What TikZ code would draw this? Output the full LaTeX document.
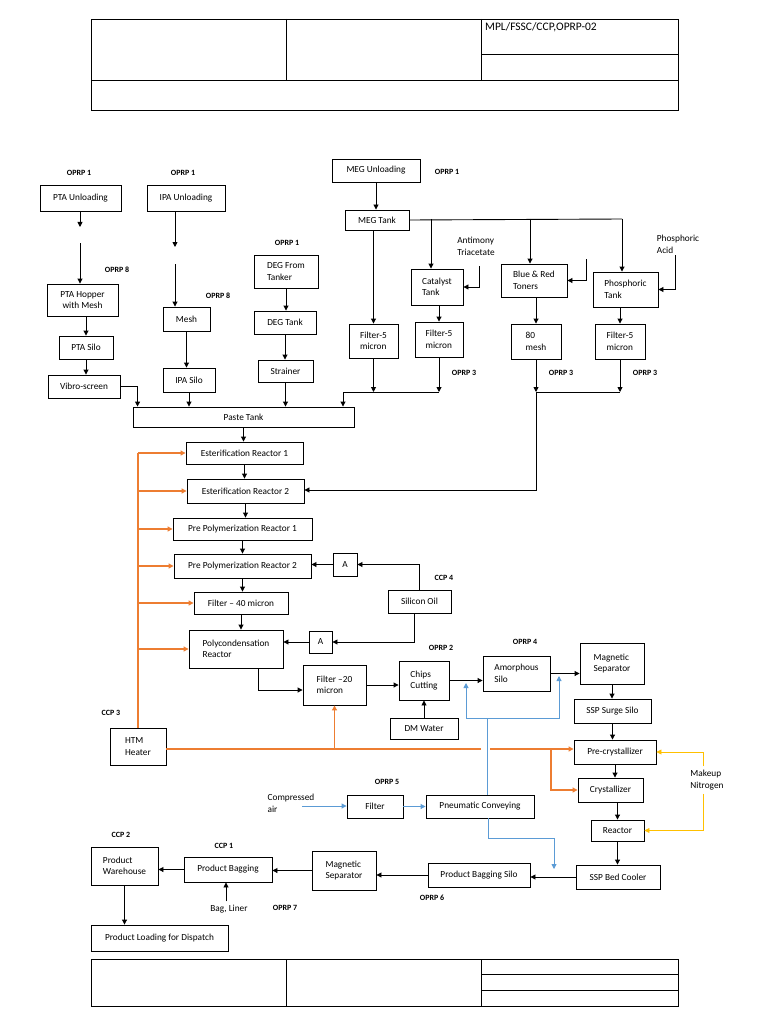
\documentclass[tikz,border=0pt]{standalone}
\usepackage{fontspec}
\setmainfont{Carlito}
\usetikzlibrary{arrows.meta}
\definecolor{orn}{RGB}{237,125,49}
\definecolor{blu}{RGB}{91,155,213}
\definecolor{yel}{RGB}{255,192,0}
\tikzset{
 box/.style={draw,line width=0.9pt,inner sep=1pt,align=left,font=\fontsize{9.3}{11.5}\selectfont},
 lab/.style={font=\bfseries\fontsize{8}{9.5}\selectfont},
 txt/.style={font=\fontsize{9.3}{12}\selectfont,align=left},
 ln/.style={line width=0.9pt},
 arr/.style={line width=0.9pt,-{Triangle[length=5pt,width=5pt]}},
 ora/.style={orn,line width=1.1pt,-{Triangle[length=5pt,width=5pt]}},
 orl/.style={orn,line width=1.1pt},
 bla/.style={blu,line width=0.9pt,-{Triangle[length=5pt,width=5pt]}},
 bll/.style={blu,line width=0.9pt},
 yla/.style={yel,line width=0.8pt,-{Triangle[length=5pt,width=5pt]}},
}
\newcommand\bx[6]{\node[box,minimum width={#4-#2},minimum height={#5-#3}] (#1) at ({(#2+#4)/2},{(#3+#5)/2}) {#6};}
\begin{document}
\begin{tikzpicture}[x=1pt,y=-1pt]
\useasboundingbox (0,0) rectangle (768,1024);
% header
\draw[line width=0.6pt] (91,19) rectangle (678,110);
\draw[line width=0.6pt] (91,80) -- (678,80) (286,19) -- (286,80) (481,19) -- (481,80) (481,54) -- (678,54);
\node[anchor=north west,font=\fontsize{11.5}{13}\selectfont,inner sep=0pt] (hdr) at (485,22) {MPL/FSSC/CCP,OPRP-02};
% footer
\draw[line width=0.6pt] (91,959) rectangle (678,1006);
\draw[line width=0.6pt] (286,959) -- (286,1006) (481,959) -- (481,1006) (481,974) -- (678,974) (481,990) -- (678,990);

% top left feeds
\bx{pta}{40}{185}{121}{211}{PTA Unloading}
\bx{ipa}{147}{185}{225}{211}{IPA Unloading}
\bx{hop}{47}{284}{118}{316}{\hfil PTA Hopper\\ \hfil with Mesh}
\bx{ptas}{59}{336}{113}{359}{PTA Silo}
\bx{vib}{48}{375}{120}{398}{Vibro-screen}
\bx{mesh}{163}{307}{210}{331}{Mesh}
\bx{ipas}{163}{368}{215}{392}{IPA Silo}
\bx{degt}{254}{255}{318}{288}{DEG From\\Tanker}
\bx{degk}{254}{311}{316}{334}{DEG Tank}
\bx{str}{258}{360}{313}{382}{Strainer}
\bx{paste}{133}{407}{354}{427}{Paste Tank}
\node[lab] at (79,173) {OPRP 1};
\node[lab] at (183,173) {OPRP 1};
\node[lab] at (117,270) {OPRP 8};
\node[lab] at (218,296) {OPRP 8};
\node[lab] at (287,243) {OPRP 1};

\coordinate (p1) at (80,227); \coordinate (p2) at (80,243);
\draw[arr] (p1 |- pta.south) -- (p1);
\draw[arr] (p2) -- (p2 |- hop.north);
\coordinate (q1) at (175,247); \coordinate (q2) at (175,264);
\draw[arr] (q1 |- ipa.south) -- (q1);
\draw[arr] (q2) -- (q2 |- mesh.north);
\draw[arr] (hop.south -| ptas.north) -- (ptas.north);
\draw[arr] (ptas.south) -- (ptas.south |- vib.north);
\draw[arr] (vib.east) -| ([xshift=5pt]paste.north west);
\draw[arr] (mesh.south) -- (mesh.south |- ipas.north);
\draw[arr] (ipas.south) -- (ipas.south |- paste.north);
\draw[arr] (degt.south) -- (degt.south |- degk.north);
\draw[arr] (degk.south) -- (degk.south |- str.north);
\draw[arr] (str.south) -- (str.south |- paste.north);

% MEG side
\bx{megu}{332}{159}{420}{182}{MEG Unloading}
\bx{megt}{345}{210}{409}{230}{MEG Tank}
\bx{f1}{349}{324}{398}{358}{Filter-5\\micron}
\bx{cat}{411}{269}{463}{305}{Catalyst\\Tank}
\bx{f2}{415}{322}{463}{357}{Filter-5\\micron}
\bx{ton}{501}{264}{567}{297}{Blue \& Red\\Toners}
\bx{m80}{511}{324}{561}{359}{80\\mesh}
\bx{pho}{593}{272}{658}{307}{Phosphoric\\Tank}
\bx{f4}{595}{324}{645}{359}{Filter-5\\micron}
\node[lab] at (447,172) {OPRP 1};
\node[txt] (ant) at (476,246) {Antimony\\Triacetate};
\node[txt] (acid) at (678,244) {Phosphoric\\Acid};
\node[lab] at (464,373) {OPRP 3};
\node[lab] at (561,373) {OPRP 3};
\node[lab] at (645,373) {OPRP 3};

\draw[arr] (megu.south) -- (megu.south |- megt.north);
\coordinate (jc) at (431,219); \coordinate (jt) at (530,219); \coordinate (jp) at (622,219);
\draw[ln] (megt.east) -- (jp);
\draw[arr] (jc) -- (jc |- cat.north);
\draw[arr] (jt) -- (jt |- ton.north);
\draw[arr] (jp) -- (jp |- pho.north);
\draw[arr] (megt.south -| f1.north) -- (f1.north);
\draw[arr] (cat.south -| f2.north) -- (f2.north);
\draw[arr] (ton.south -| m80.north) -- (m80.north);
\draw[arr] (pho.south -| f4.north) -- (f4.north);
\coordinate (an) at (479,266); \draw[arr] (an) |- (cat.east);
\coordinate (tn) at (586,259); \draw[arr] (tn) |- (ton.east);
\coordinate (pa) at (675,255); \draw[arr] (pa) |- (pho.east);
\coordinate (yj) at (0,392);
\draw[arr] (f1.south) -- (f1.south |- yj);
\draw[arr] (f2.south) -- (f2.south |- yj);
\coordinate (pj) at (343,392);
\draw[ln] (f2.south |- yj) -- (pj);
\draw[arr] (pj) -- (pj |- paste.north);
\draw[arr] (m80.south) -- (m80.south |- yj);
\draw[arr] (f4.south) -- (f4.south |- yj);
\draw[ln] (m80.south |- yj) -- (f4.south |- yj);

% reactors
\bx{er1}{186}{442}{303}{464}{Esterification Reactor 1}
\bx{er2}{187}{479}{304}{503}{Esterification Reactor 2}
\bx{pp1}{173}{518}{312}{540}{Pre Polymerization Reactor 1}
\bx{pp2}{174}{554}{311}{578}{Pre Polymerization Reactor 2}
\bx{a1}{333}{553}{357}{576}{A}
\bx{sil}{388}{590}{451}{613}{Silicon Oil}
\bx{f40}{194}{592}{288}{614}{Filter -- 40 micron}
\bx{poly}{189}{630}{283}{668}{Polycondensation\\Reactor}
\bx{a2}{309}{631}{332}{653}{A}
\bx{f20}{303}{665}{366}{705}{Filter --20\\micron}
\bx{chip}{399}{661}{449}{700}{Chips\\Cutting}
\bx{dm}{390}{718}{458}{739}{DM Water}
\bx{am}{483}{656}{550}{691}{Amorphous\\Silo}
\bx{mag1}{580}{643}{644}{684}{Magnetic\\Separator}
\bx{surge}{574}{699}{651}{723}{SSP Surge Silo}
\bx{pre}{574}{740}{656}{764}{Pre-crystallizer}
\bx{cry}{578}{778}{643}{802}{Crystallizer}
\bx{reac}{591}{820}{644}{841}{Reactor}
\bx{cool}{576}{865}{660}{889}{SSP Bed Cooler}
\bx{htm}{110}{728}{166}{765}{HTM\\Heater}
\node[lab] at (444,578) {CCP 4};
\node[lab] at (441,648) {OPRP 2};
\node[lab] at (525,642) {OPRP 4};
\node[lab] at (111,713) {CCP 3};
\node[txt] (mn) at (707,780) {Makeup\\Nitrogen};

\draw[arr] (paste.south) -- (paste.south |- er1.north);
\draw[arr] (er1.south) -- (er1.south |- er2.north);
\draw[arr] (er2.south) -- (er2.south |- pp1.north);
\draw[arr] (pp1.south) -- (pp1.south |- pp2.north);
\draw[arr] (pp2.south) -- (pp2.south |- f40.north);
\draw[arr] (f40.south) -- (f40.south |- poly.north);
\coordinate (rj) at (536,490);
\draw[arr] (m80.south |- yj) -- (rj) -- (rj -| er2.east);
\draw[arr] (a1.west) -- (a1.west -| pp2.east);
\draw[arr] (a2.west) -- (a2.west -| poly.east);
\draw[arr] (sil.north) |- (a1.east);
\draw[arr] ([xshift=-5pt]sil.south) |- (a2.east);
\coordinate (pc) at (258,690);
\draw[arr] (pc |- poly.south) -- (pc) -- (pc -| f20.west);
\draw[arr] (f20.east) -- (f20.east -| chip.west);
\draw[arr] (dm.north -| chip.south) -- (chip.south);
\draw[arr] (chip.east) -- (chip.east -| am.west);
\draw[arr] (am.east) -- (am.east -| mag1.west);
\draw[arr] (mag1.south) -- (mag1.south |- surge.north);
\draw[arr] (surge.south) -- (surge.south |- pre.north);
\draw[arr] (pre.south) -- (pre.south |- cry.north);
\draw[arr] (cry.south -| reac.north) -- (reac.north);
\draw[arr] (reac.south) -- (reac.south |- cool.north);

% orange heating
\coordinate (ht) at (138,0);
\draw[orl] (htm.north) -- (htm.north |- er1.west);
\draw[ora] (er1.west -| ht) -- (er1.west);
\draw[ora] (er2.west -| ht) -- (er2.west);
\draw[ora] (pp1.west -| ht) -- (pp1.west);
\draw[ora] (pp2.west -| ht) -- (pp2.west);
\draw[ora] (f40.west -| ht) -- (f40.west);
\draw[ora] (poly.west -| ht) -- (poly.west);
\coordinate (o1) at (481,749); \coordinate (o2) at (490,749); \coordinate (o3) at (551,749);
\draw[orl] (htm.east |- o1) -- (o1);
\draw[ora] (f20.south |- o1) -- (f20.south);
\draw[orl] (o2) -- (o3);
\draw[ora] (o3) -- (o3 -| pre.west);
\draw[ora] (o3) |- (cry.west);

% yellow
\draw[yla] (mn.north -| 703,0) |- (pre.east);
\draw[yla] (mn.south -| 703,0) |- (reac.east);

% bottom
\bx{filt}{347}{795}{403}{818}{Filter}
\bx{pn}{426}{795}{534}{818}{Pneumatic Conveying}
\bx{pbs}{428}{863}{530}{887}{Product Bagging Silo}
\bx{mag2}{312}{851}{376}{890}{Magnetic\\Separator}
\bx{pb}{184}{857}{272}{882}{Product Bagging}
\bx{pw}{91}{847}{158}{885}{Product\\Warehouse}
\bx{pl}{91}{925}{228}{951}{Product Loading for Dispatch}
\node[txt] (ca) at (291,803) {Compressed\\air};
\node[txt] (bl) at (229,909) {Bag, Liner};
\node[lab] at (387,782) {OPRP 5};
\node[lab] at (432,898) {OPRP 6};
\node[lab] at (285,908) {OPRP 7};
\node[lab] at (224,846) {CCP 1};
\node[lab] at (121,835) {CCP 2};

\coordinate (cae) at (302,806);
\draw[bla] (cae) -- (cae -| filt.west);
\draw[bla] (filt.east) -- (filt.east -| pn.west);
\coordinate (b1) at (487,718);
\draw[bll] (pn.north -| b1) -- (b1);
\draw[bla] (b1) -| (466,683);
\draw[bla] (b1) -| (559,676);
\coordinate (b2) at (488,838); \coordinate (b3) at (554,838);
\draw[bll] (pn.south -| b2) -- (b2) -- (b3);
\draw[bla] (b3) -- (554,869);
\draw[arr] (cool.west) -- (cool.west -| pbs.east);
\draw[arr] (pbs.west) -- (pbs.west -| mag2.east);
\draw[arr] (mag2.west) -- (mag2.west -| pb.east);
\draw[arr] (pb.west) -- (pb.west -| pw.east);
\draw[arr] (pw.south) -- (pw.south |- pl.north);
\draw[arr] (bl.north -| 226,0) -- (pb.south -| 226,0);
\end{tikzpicture}
\end{document}
